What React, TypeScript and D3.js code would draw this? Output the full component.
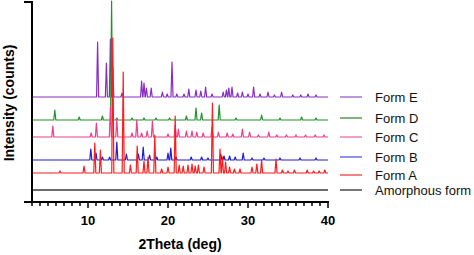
import React, { useEffect, useRef } from "react";
import * as d3 from "d3";

// XRD peak lists per form: [2theta (deg), intensity above the trace baseline]
const formEPeaks: [number, number][] = [
  [11.2, 55], [12.3, 34], [12.8, 58], [13.1, 30], [14.25, 4], [16.7, 16], [17.0, 14],
  [17.3, 9], [17.9, 9], [19.3, 5], [19.9, 3], [20.5, 35], [21.1, 3], [22.0, 3],
  [22.6, 8], [23.5, 7], [24.1, 6], [24.7, 10], [25.5, 3], [26.9, 5], [27.3, 7],
  [27.6, 9], [28.0, 10], [28.7, 4], [29.3, 5], [30.0, 3], [30.7, 10], [31.5, 3],
  [32.5, 5], [33.3, 2], [34.2, 5], [35.6, 2], [36.6, 2], [37.5, 3], [38.5, 2],
];
const formDPeaks: [number, number][] = [
  [5.85, 10], [8.9, 3], [11.8, 4], [12.95, 119], [13.6, 2], [15.5, 2], [17.0, 2],
  [18.5, 2], [20.2, 2], [22.3, 4], [23.5, 12], [24.2, 7], [26.4, 15], [28.5, 2],
  [31.7, 5], [34.0, 2], [36.7, 3], [38.5, 2],
];
const formCPeaks: [number, number][] = [
  [5.6, 11], [10.4, 4], [11.05, 14], [12.8, 30], [13.6, 18], [15.5, 4], [16.1, 17],
  [16.7, 4], [17.4, 6], [18.05, 16], [20.0, 3], [20.9, 12], [21.3, 8], [22.3, 6],
  [23.0, 6], [23.6, 5], [24.4, 4], [25.5, 10], [26.3, 5], [27.4, 4], [28.1, 3],
  [29.3, 8], [30.2, 5], [31.3, 2], [32.6, 5], [33.6, 2], [34.8, 2], [36.0, 2],
  [37.2, 2], [38.4, 2], [39.5, 2],
];
const formBPeaks: [number, number][] = [
  [10.35, 11], [11.0, 7], [11.8, 3], [12.7, 3], [13.6, 18], [14.8, 6], [16.3, 6],
  [16.9, 13], [17.7, 5], [18.6, 3], [20.0, 7], [20.35, 12], [21.0, 3], [22.9, 3],
  [24.2, 3], [25.0, 2], [26.6, 6], [27.0, 4], [27.7, 4], [28.4, 3], [29.4, 7],
  [30.5, 2], [32.0, 2], [34.0, 2], [36.5, 2], [38.5, 2],
];
const formAPeaks: [number, number][] = [
  [6.5, 2], [9.5, 7], [10.85, 30], [11.55, 23], [13.1, 135], [14.4, 101], [15.3, 8],
  [16.15, 27], [17.0, 12], [17.5, 16], [18.35, 38], [19.2, 4], [20.0, 6], [20.9, 57],
  [21.4, 8], [21.9, 7], [22.5, 8], [23.0, 9], [23.4, 7], [23.8, 8], [24.5, 6],
  [25.55, 70], [26.5, 24], [26.8, 16], [27.2, 11], [27.7, 6], [28.3, 4], [29.0, 4],
  [30.5, 6], [31.1, 9], [31.7, 13], [33.5, 14], [34.3, 3], [35.0, 2], [35.8, 3],
  [37.4, 3], [38.2, 2], [38.9, 2], [39.6, 3],
];
const amorphousPeaks: [number, number][] = [];

const seriesNames = ["Form E", "Form D", "Form C", "Form B", "Form A", "Amorphous form"];
const seriesPeaks = [formEPeaks, formDPeaks, formCPeaks, formBPeaks, formAPeaks, amorphousPeaks];
// vertical stacking offset of each trace
const seriesOffsets = [105, 82, 65, 42, 29, 12];
const traceColors = ["#8A2CC4", "#23912A", "#EA3F8D", "#1E1ECF", "#FF1C1C", "#3A3A3A"];
const legendColors = ["#A675D6", "#4E9E4E", "#F27DB2", "#6C6CE6", "#F25A5A", "#4A4A4A"];

const xTicks = [10, 20, 30, 40];
const FONT = "'Liberation Sans', Arial, sans-serif";
// legend rows sit near their traces but are spread a little to stay readable
const legendRowY = [97, 118, 137, 157, 175, 190];

const App: React.FC = () => {
  const ref = useRef<SVGSVGElement>(null);

  useEffect(() => {
    const svg = d3.select(ref.current);
    svg.selectAll("*").remove();

    const x = d3.scaleLinear().domain([3, 40]).range([32, 328]);
    const y = d3.scaleLinear().domain([0, 200]).range([202, 2]);
    const halfWidth = 0.13;

    const line = d3
      .line<[number, number]>()
      .x((d) => x(d[0]))
      .y((d) => y(d[1]));

    // each peak becomes a narrow spike on the trace's baseline
    const tracePoints = (peaks: [number, number][], offset: number) => {
      const pts: [number, number][] = [[3, offset]];
      peaks.forEach(([p, h]) => {
        pts.push([p - halfWidth, offset], [p, offset + h], [p + halfWidth, offset]);
      });
      pts.push([40, offset]);
      return pts;
    };

    const traces = svg.append("g");
    seriesNames.forEach((name, i) => {
      traces
        .append("path")
        .datum(tracePoints(seriesPeaks[i], seriesOffsets[i]))
        .attr("fill", "none")
        .attr("stroke", traceColors[i])
        .attr("stroke-width", i === 5 ? 1.4 : 1.2)
        .attr("stroke-linejoin", "round")
        .attr("d", line);
    });

    // axes
    const axes = svg.append("g").attr("stroke", "#000");
    axes
      .append("line")
      .attr("x1", 24)
      .attr("x2", x(40) + 1)
      .attr("y1", y(0))
      .attr("y2", y(0))
      .attr("stroke-width", 2);
    axes
      .append("line")
      .attr("x1", x(3))
      .attr("x2", x(3))
      .attr("y1", y(200) - 1)
      .attr("y2", y(0))
      .attr("stroke-width", 2);
    axes
      .append("line")
      .attr("x1", 24)
      .attr("x2", x(3))
      .attr("y1", y(200))
      .attr("y2", y(200))
      .attr("stroke-width", 2);

    axes
      .selectAll("line.tick")
      .data(d3.range(3, 41))
      .enter()
      .append("line")
      .attr("class", "tick")
      .attr("x1", (d) => x(d))
      .attr("x2", (d) => x(d))
      .attr("y1", y(0))
      .attr("y2", (d) => y(0) + (d % 10 === 0 ? 6 : 4))
      .attr("stroke-width", 1.5);

    svg
      .selectAll("text.xtick")
      .data(xTicks)
      .enter()
      .append("text")
      .attr("class", "xtick")
      .attr("x", (d) => x(d))
      .attr("y", 225)
      .attr("text-anchor", "middle")
      .attr("font-family", FONT)
      .attr("font-weight", "bold")
      .attr("font-size", 13)
      .text((d) => d);

    svg
      .append("text")
      .attr("x", 180)
      .attr("y", 249)
      .attr("text-anchor", "middle")
      .attr("font-family", FONT)
      .attr("font-weight", "bold")
      .attr("font-size", 14)
      .text("2Theta (deg)");

    svg
      .append("text")
      .attr("transform", "translate(14, 103) rotate(-90)")
      .attr("text-anchor", "middle")
      .attr("font-family", FONT)
      .attr("font-weight", "bold")
      .attr("font-size", 14)
      .text("Intensity (counts)");

    const legend = svg
      .selectAll("g.legend")
      .data(seriesNames)
      .enter()
      .append("g")
      .attr("class", "legend")
      .attr("transform", (d, i) => `translate(0, ${legendRowY[i]})`);
    legend
      .append("line")
      .attr("x1", 340)
      .attr("x2", 362)
      .attr("stroke", (d, i) => legendColors[i])
      .attr("stroke-width", 1.5);
    legend
      .append("text")
      .attr("x", 375)
      .attr("dy", "0.35em")
      .attr("font-family", FONT)
      .attr("font-size", 13)
      .attr("fill", "#111")
      .text((d) => d);
  }, []);

  return (
    <div style={{ position: "absolute", left: 0, top: 0 }}>
      <svg ref={ref} width={474} height={255} style={{ display: "block", background: "#fff" }} />
    </div>
  );
};

export default App;
